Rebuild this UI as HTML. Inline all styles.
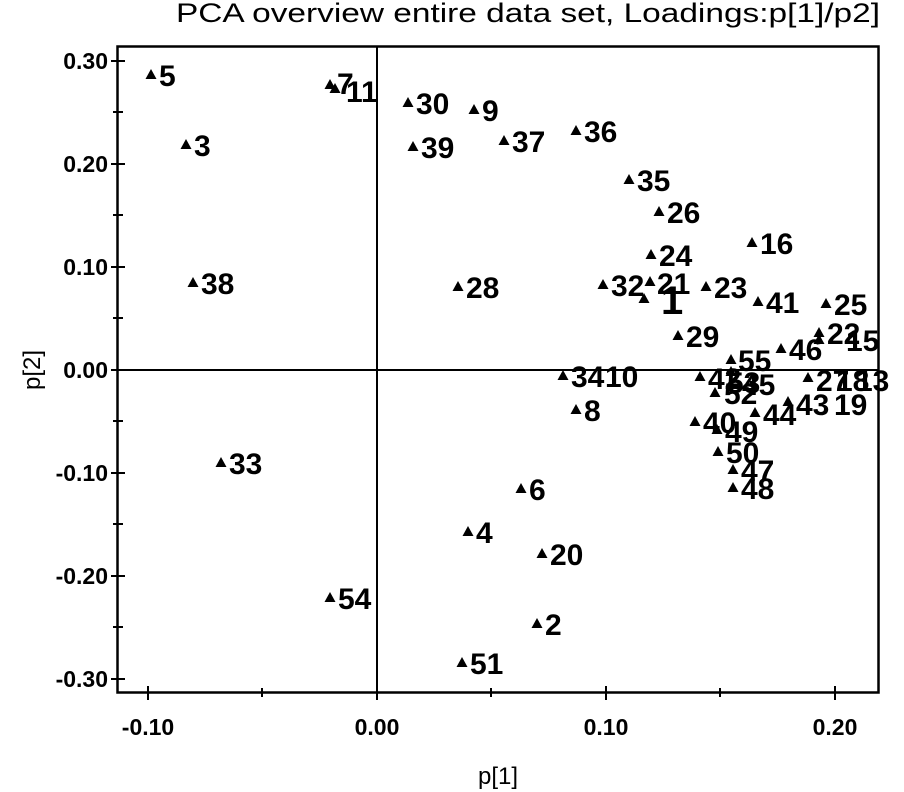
<!DOCTYPE html>
<html><head><style>body{margin:0;background:#fff}svg{display:block}</style></head><body>
<svg width="904" height="792" xmlns="http://www.w3.org/2000/svg" font-family="Liberation Sans, sans-serif">
<text x="176" y="22" font-size="27" textLength="704" lengthAdjust="spacingAndGlyphs">PCA overview entire data set, Loadings:p[1]/p2]</text>
<rect x="117.5" y="46.5" width="761" height="646" fill="none" stroke="#000" stroke-width="2.5"/>
<line x1="377" y1="46" x2="377" y2="692" stroke="#000" stroke-width="2"/>
<line x1="117" y1="370" x2="878" y2="370" stroke="#000" stroke-width="2"/>
<g stroke="#000" stroke-width="2">
<line x1="111" y1="61" x2="125" y2="61"/><line x1="111" y1="164" x2="125" y2="164"/><line x1="111" y1="267" x2="125" y2="267"/><line x1="111" y1="370" x2="125" y2="370"/><line x1="111" y1="473" x2="125" y2="473"/><line x1="111" y1="576" x2="125" y2="576"/><line x1="111" y1="679" x2="125" y2="679"/>
<line x1="113" y1="112" x2="123" y2="112"/><line x1="113" y1="215" x2="123" y2="215"/><line x1="113" y1="318" x2="123" y2="318"/><line x1="113" y1="421" x2="123" y2="421"/><line x1="113" y1="524" x2="123" y2="524"/><line x1="113" y1="627" x2="123" y2="627"/>
<line x1="148" y1="686" x2="148" y2="700"/><line x1="377" y1="686" x2="377" y2="700"/><line x1="606" y1="686" x2="606" y2="700"/><line x1="835" y1="686" x2="835" y2="700"/>
<line x1="262" y1="688" x2="262" y2="697"/><line x1="491" y1="688" x2="491" y2="697"/><line x1="720" y1="688" x2="720" y2="697"/>
</g>
<g font-size="23" font-weight="bold" text-anchor="end">
<text x="108" y="69">0.30</text><text x="108" y="172">0.20</text><text x="108" y="275">0.10</text><text x="108" y="378">0.00</text><text x="108" y="481">-0.10</text><text x="108" y="584">-0.20</text><text x="108" y="687">-0.30</text>
</g>
<g font-size="23" font-weight="bold" text-anchor="middle">
<text x="148" y="735">-0.10</text><text x="377" y="735">0.00</text><text x="606" y="735">0.10</text><text x="835" y="735">0.20</text>
<text x="498" y="784" font-weight="normal" font-size="24">p[1]</text>
<text transform="translate(40,370) rotate(-90)" font-weight="normal" font-size="24">p[2]</text>
</g>
<defs><path id="t" d="M0,-6 L5.5,4 L-5.5,4 Z" fill="#000"/></defs>
<g font-size="30" font-weight="bold">
<use href="#t" x="151" y="75"/><text x="159" y="86">5</text>
<use href="#t" x="330" y="85"/><use href="#t" x="335" y="89"/><text x="337" y="94">7</text><text x="346" y="102">11</text>
<use href="#t" x="186" y="145"/><text x="194" y="156">3</text>
<use href="#t" x="193" y="283"/><text x="201" y="294">38</text>
<use href="#t" x="408" y="103"/><text x="416" y="114">30</text>
<use href="#t" x="474" y="110"/><text x="482" y="121">9</text>
<use href="#t" x="413" y="147"/><text x="421" y="158">39</text>
<use href="#t" x="504" y="141"/><text x="512" y="152">37</text>
<use href="#t" x="576" y="131"/><text x="584" y="142">36</text>
<use href="#t" x="629" y="180"/><text x="637" y="191">35</text>
<use href="#t" x="659" y="212"/><text x="667" y="223">26</text>
<use href="#t" x="752" y="243"/><text x="760" y="254">16</text>
<use href="#t" x="651" y="255"/><text x="659" y="266">24</text>
<use href="#t" x="603" y="285"/><text x="611" y="296">32</text>
<use href="#t" x="650" y="282"/><text x="657" y="294">21</text>
<use href="#t" x="644" y="299"/><text x="661" y="314" font-size="40">1</text>
<use href="#t" x="706" y="287"/><text x="714" y="298">23</text>
<use href="#t" x="758" y="302"/><text x="766" y="313">41</text>
<use href="#t" x="826" y="304"/><text x="834" y="315">25</text>
<use href="#t" x="458" y="287"/><text x="466" y="298">28</text>
<use href="#t" x="678" y="336"/><text x="686" y="347">29</text>
<use href="#t" x="819" y="333"/><use href="#t" x="819" y="340"/><text x="827" y="344">22</text><text x="846" y="351">15</text>
<use href="#t" x="781" y="349"/><text x="789" y="360">46</text>
<use href="#t" x="731" y="360"/><text x="738" y="371">55</text>
<use href="#t" x="563" y="376"/><text x="571" y="387">34</text><text x="605" y="387">10</text>
<use href="#t" x="700" y="377"/><text x="708" y="389">42</text><use href="#t" x="731" y="372"/><text x="727" y="393">53</text><text x="742" y="395">45</text>
<use href="#t" x="715" y="393"/><text x="724" y="404">52</text>
<use href="#t" x="808" y="378"/><text x="816" y="391">27</text><text x="836" y="391">18</text><text x="856" y="391">13</text>
<use href="#t" x="788" y="402"/><text x="796" y="415">43</text><text x="834" y="415">19</text>
<use href="#t" x="576" y="410"/><text x="584" y="421">8</text>
<use href="#t" x="695" y="422"/><text x="703" y="433">40</text>
<use href="#t" x="755" y="413"/><text x="763" y="425">44</text>
<use href="#t" x="717" y="430"/><text x="725" y="442">49</text>
<use href="#t" x="718" y="452"/><text x="726" y="463">50</text>
<use href="#t" x="733" y="470"/><text x="741" y="481">47</text>
<use href="#t" x="733" y="488"/><text x="741" y="499">48</text>
<use href="#t" x="521" y="489"/><text x="529" y="500">6</text>
<use href="#t" x="468" y="532"/><text x="476" y="543">4</text>
<use href="#t" x="542" y="554"/><text x="550" y="565">20</text>
<use href="#t" x="221" y="463"/><text x="229" y="474">33</text>
<use href="#t" x="330" y="598"/><text x="338" y="609">54</text>
<use href="#t" x="537" y="624"/><text x="545" y="635">2</text>
<use href="#t" x="462" y="663"/><text x="470" y="674">51</text>
</g>
</svg>
</body></html>
